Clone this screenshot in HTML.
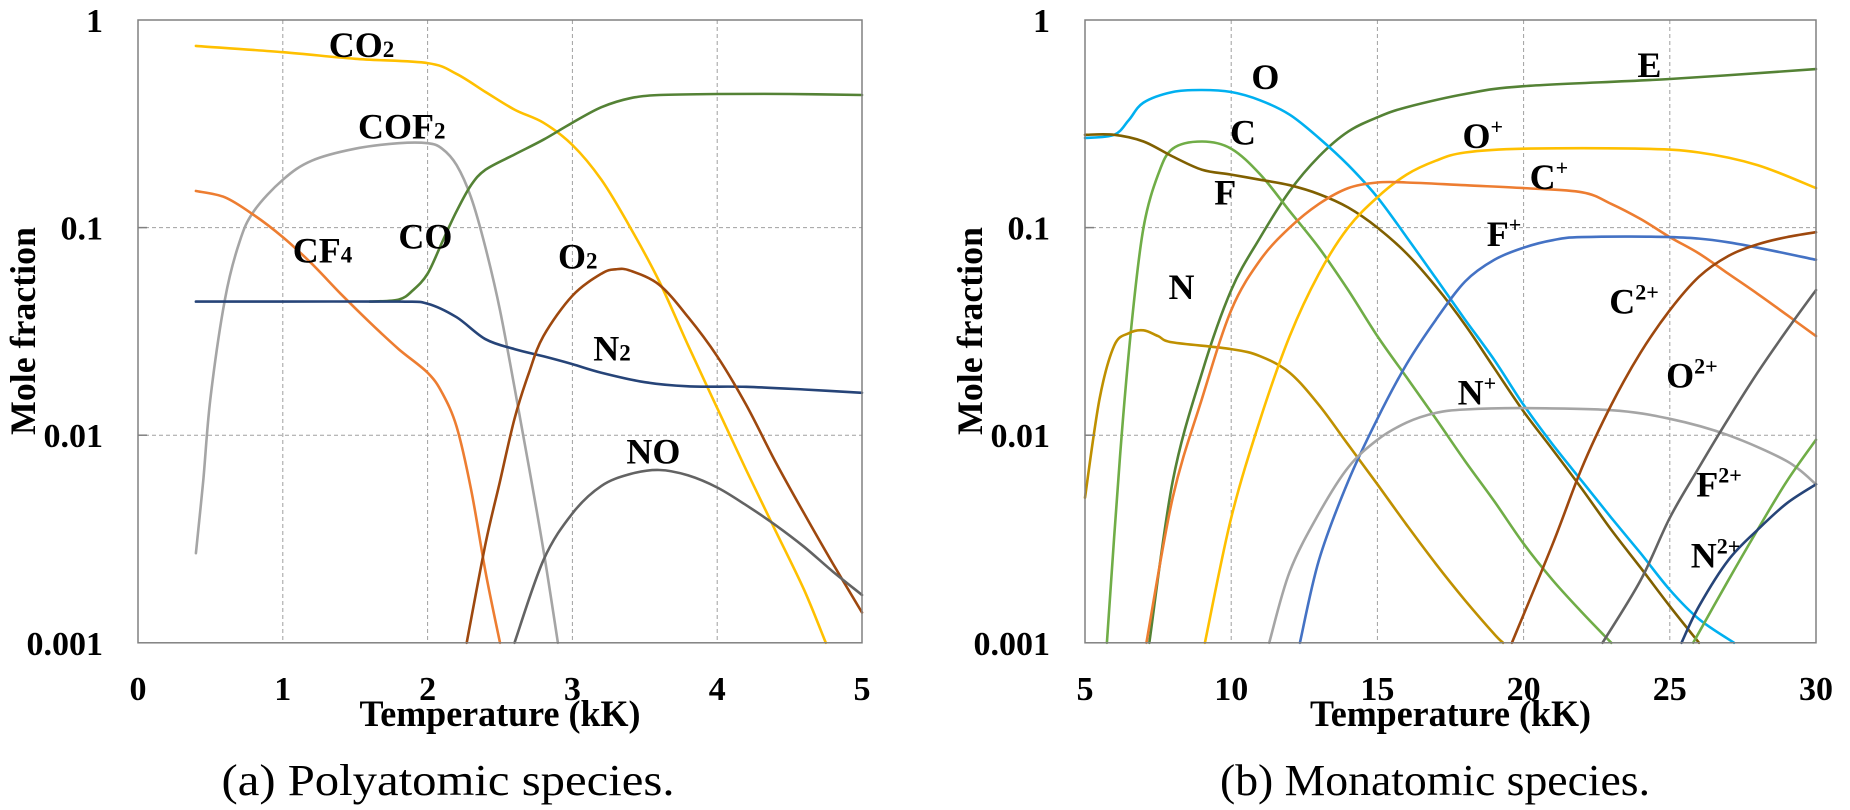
<!DOCTYPE html>
<html><head><meta charset="utf-8"><style>
html,body{margin:0;padding:0;background:#fff;}
svg{display:block;}
.t{font-family:"Liberation Serif",serif;font-weight:bold;fill:#000;}
.cap{font-family:"Liberation Serif",serif;font-size:44px;fill:#000;}
</style></head><body>
<svg id="s" width="1850" height="810" viewBox="0 0 1850 810" xmlns="http://www.w3.org/2000/svg">
<g id="grid"></g>
<g id="series" fill="none" stroke-width="2.6" stroke-linejoin="round" stroke-linecap="round"></g>
<g id="frames"></g>
<g id="txt"></g>
</svg>
<script>
const NS="http://www.w3.org/2000/svg";
const Y0=20,DEC=207.6;
function yv(v){return Y0+DEC*(-Math.log10(v));}
const P1={x0:138,x1:862,t0:0,t1:5},P2={x0:1085,x1:1816,t0:5,t1:30};
function xv(p,t){return p.x0+(t-p.t0)/(p.t1-p.t0)*(p.x1-p.x0);}
function el(g,tag,a,txt){const e=document.createElementNS(NS,tag);for(const k in a)e.setAttribute(k,a[k]);if(txt!==undefined)e.textContent=txt;document.getElementById(g).appendChild(e);return e;}
function axes(p,xt){
  for(const t of xt.slice(1,-1)){const x=xv(p,t);el("grid","line",{x1:x,y1:Y0,x2:x,y2:yv(0.001),stroke:"#a0a0a0","stroke-width":1,"stroke-dasharray":"4,3"});}
  for(const v of [0.1,0.01]){el("grid","line",{x1:p.x0,y1:yv(v),x2:p.x1,y2:yv(v),stroke:"#a0a0a0","stroke-width":1,"stroke-dasharray":"4,3"});}
  el("frames","rect",{x:p.x0,y:Y0,width:p.x1-p.x0,height:yv(0.001)-Y0,fill:"none",stroke:"#808080","stroke-width":1.5});
  for(const v of [0.1,0.01]) el("frames","line",{x1:p.x0,y1:yv(v),x2:p.x0+9,y2:yv(v),stroke:"#808080","stroke-width":1.5});
  for(const t of xt){el("txt","text",{x:xv(p,t),y:700,"text-anchor":"middle","class":"t","font-size":"34"},String(t));}
  const lab=[["1",1],["0.1",0.1],["0.01",0.01],["0.001",0.001]];
  for(const [s,v] of lab){el("txt","text",{x:p.x0-35,y:yv(v)+12,"text-anchor":"end","class":"t","font-size":"34"},s);}
  const cx=(p.x0+p.x1)/2;
  el("txt","text",{x:cx,y:726,"text-anchor":"middle","class":"t","font-size":"37",textLength:281,lengthAdjust:"spacingAndGlyphs"},"Temperature (kK)");
  el("txt","text",{x:0,y:0,"text-anchor":"middle","class":"t","font-size":"36",textLength:208,lengthAdjust:"spacingAndGlyphs",transform:`translate(${p.x0-103},331) rotate(-90)`},"Mole fraction");
}
axes(P1,[0,1,2,3,4,5]);
axes(P2,[5,10,15,20,25,30]);
el("txt","text",{x:448,y:795,"text-anchor":"middle","class":"cap",textLength:453,lengthAdjust:"spacingAndGlyphs"},"(a) Polyatomic species.");
el("txt","text",{x:1435,y:795,"text-anchor":"middle","class":"cap",textLength:430,lengthAdjust:"spacingAndGlyphs"},"(b) Monatomic species.");

function series(p,col,d){
  const pts=[];for(let i=0;i<d.length;i+=2)pts.push([xv(p,d[i]),yv(d[i+1])]);
  let s=`M${pts[0][0].toFixed(1)},${pts[0][1].toFixed(1)}`;
  for(let i=0;i<pts.length-1;i++){
    const p0=pts[Math.max(0,i-1)],p1=pts[i],p2=pts[i+1],p3=pts[Math.min(pts.length-1,i+2)];
    const c1=[p1[0]+(p2[0]-p0[0])/6,p1[1]+(p2[1]-p0[1])/6],c2=[p2[0]-(p3[0]-p1[0])/6,p2[1]-(p3[1]-p1[1])/6];
    s+=`C${c1[0].toFixed(1)},${c1[1].toFixed(1)} ${c2[0].toFixed(1)},${c2[1].toFixed(1)} ${p2[0].toFixed(1)},${p2[1].toFixed(1)}`;
  }
  el("series","path",{d:s,stroke:col});
}
series(P1,"#FFC000",[0.4,0.75,1.0,0.70,1.5,0.65,2.0,0.62,2.2,0.55,2.4,0.45,2.6,0.37,2.8,0.32,3.0,0.25,3.2,0.17,3.4,0.1,3.6,0.055,3.8,0.027,4.0,0.0135,4.2,0.0068,4.4,0.0035,4.6,0.0018,4.75,0.001]);
series(P1,"#A5A5A5",[0.4,0.0027,0.45,0.006,0.5,0.015,0.6,0.045,0.7,0.085,0.8,0.12,1.0,0.17,1.2,0.21,1.5,0.24,1.8,0.255,2.0,0.255,2.1,0.24,2.2,0.2,2.3,0.14,2.4,0.08,2.5,0.04,2.6,0.017,2.7,0.007,2.8,0.0028,2.9,0.001]);
series(P1,"#ED7D31",[0.4,0.15,0.6,0.14,0.8,0.115,1.0,0.09,1.2,0.067,1.4,0.048,1.6,0.035,1.8,0.026,2.0,0.02,2.1,0.016,2.2,0.011,2.3,0.0055,2.4,0.0022,2.5,0.001]);
series(P1,"#548235",[1.6,0.044,1.8,0.045,1.9,0.05,2.0,0.06,2.1,0.085,2.2,0.12,2.3,0.16,2.4,0.19,2.6,0.225,2.8,0.265,3.0,0.32,3.2,0.38,3.4,0.42,3.6,0.435,4,0.44,4.5,0.44,5,0.435]);
series(P1,"#264478",[0.4,0.044,1.0,0.044,1.8,0.044,2.0,0.043,2.2,0.037,2.4,0.029,2.6,0.026,2.8,0.024,3.0,0.022,3.2,0.02,3.5,0.018,3.8,0.0172,4.2,0.0171,4.6,0.0166,5,0.016]);
series(P1,"#9E480E",[2.27,0.001,2.4,0.003,2.5,0.006,2.6,0.012,2.7,0.02,2.8,0.03,3.0,0.047,3.2,0.06,3.3,0.063,3.4,0.062,3.6,0.053,3.8,0.037,4.0,0.024,4.2,0.014,4.4,0.0075,4.6,0.0042,4.8,0.0024,5,0.0014]);
series(P1,"#636363",[2.6,0.001,2.8,0.0025,3.0,0.0042,3.2,0.0057,3.4,0.0065,3.6,0.0068,3.8,0.0064,4.0,0.0056,4.2,0.0046,4.4,0.0037,4.6,0.0029,4.8,0.0022,5,0.0017]);
series(P2,"#548235",[7.2,0.001,8,0.006,9,0.02,10,0.05,11,0.09,12,0.15,13,0.22,14,0.29,15,0.34,16,0.38,18,0.44,20,0.48,25,0.52,30,0.58]);
series(P2,"#00B0F0",[5,0.27,6,0.28,6.5,0.33,7,0.4,8,0.45,9,0.46,10,0.45,11,0.41,12,0.35,13,0.27,14,0.2,15,0.14,16,0.09,17,0.057,18,0.036,19,0.023,20,0.014,21,0.009,22,0.006,23,0.004,24,0.0027,25,0.0018,26,0.0013,27.2,0.001]);
series(P2,"#70AD47",[5.75,0.001,6.2,0.008,6.6,0.035,7,0.1,7.5,0.18,8,0.24,9,0.26,10,0.24,11,0.18,12,0.12,13,0.08,14,0.05,15,0.03,16,0.019,17,0.012,18,0.0075,19,0.0048,20,0.003,21,0.002,22,0.0014,23,0.001]);
series(P2,"#806000",[5,0.28,6,0.28,7,0.26,8,0.22,9,0.19,10,0.18,11,0.17,12,0.16,13,0.145,14,0.125,15,0.1,16,0.075,17,0.052,18,0.034,19,0.021,20,0.013,21,0.0085,22,0.0055,23,0.0035,24,0.0023,25,0.0015,26,0.001]);
series(P2,"#BF9000",[5,0.005,5.5,0.015,6,0.027,6.5,0.031,7,0.032,7.5,0.03,8,0.028,10,0.026,11,0.024,12,0.02,13,0.014,14,0.009,15,0.0058,16,0.0037,17,0.0024,18,0.0016,19,0.0011,19.3,0.001]);
series(P2,"#FFC000",[9.1,0.001,10,0.004,11,0.012,12,0.03,13,0.06,14,0.1,15,0.14,16,0.18,17,0.21,18,0.23,20,0.24,24,0.24,26,0.23,28,0.2,30,0.155]);
series(P2,"#ED7D31",[7.1,0.001,8,0.005,9,0.015,10,0.04,11,0.07,12,0.1,13,0.13,14,0.155,15,0.165,16,0.165,18,0.16,20,0.155,22,0.148,23,0.13,24,0.11,25,0.09,26,0.075,27,0.06,28,0.048,29,0.038,30,0.03]);
series(P2,"#4472C4",[12.35,0.001,13,0.0025,14,0.006,15,0.012,16,0.022,17,0.036,18,0.055,19,0.07,20,0.08,21,0.087,22,0.09,25,0.09,27,0.085,30,0.07]);
series(P2,"#A5A5A5",[11.3,0.001,12,0.0022,13,0.0042,14,0.007,15,0.0095,16,0.0115,17,0.0128,18,0.0133,20,0.0135,23,0.0132,25,0.012,27,0.01,29,0.0075,30,0.0058]);
series(P2,"#9E480E",[19.6,0.001,21,0.003,22,0.007,23,0.014,24,0.025,25,0.04,26,0.058,27,0.073,28,0.083,29,0.09,30,0.095]);
series(P2,"#636363",[22.7,0.001,24,0.002,25,0.004,26,0.007,27,0.012,28,0.02,29,0.032,30,0.05]);
series(P2,"#70AD47",[25.8,0.001,27,0.002,28,0.0035,29,0.006,30,0.0095]);
series(P2,"#264478",[25.4,0.001,26,0.0015,27,0.0025,28,0.0035,29,0.0047,30,0.0058]);

const K=1.1815;
function lab(x,y,main,sub,sup){
  const t=el("txt","text",{x:x*K,y:y*K+12,"text-anchor":"middle","class":"t","font-size":"36"});
  const a=document.createElementNS(NS,"tspan");a.textContent=main;t.appendChild(a);
  if(sub){const b=document.createElementNS(NS,"tspan");b.setAttribute("font-size","23");b.textContent=sub;t.appendChild(b);}
  if(sup){const b=document.createElementNS(NS,"tspan");b.setAttribute("font-size","22");b.setAttribute("dy","-14");b.textContent=sup;t.appendChild(b);}
}
lab(306,38,"CO","2");lab(340,107,"COF","2");lab(273,212,"CF","4");lab(360,200,"CO");
lab(489,217,"O","2");lab(518,295,"N","2");lab(553,382,"NO");
lab(1071,65,"O");lab(1396,55,"E");lab(1255,115,"O",null,"+");lab(1052,112,"C");lab(1037,163,"F");
lab(1311,150,"C",null,"+");lab(1273,198,"F",null,"+");lab(1383,255,"C",null,"2+");lab(1000,243,"N");
lab(1432,318,"O",null,"2+");lab(1250,332,"N",null,"+");lab(1455,410,"F",null,"2+");lab(1452,470,"N",null,"2+");
</script>
</body></html>
